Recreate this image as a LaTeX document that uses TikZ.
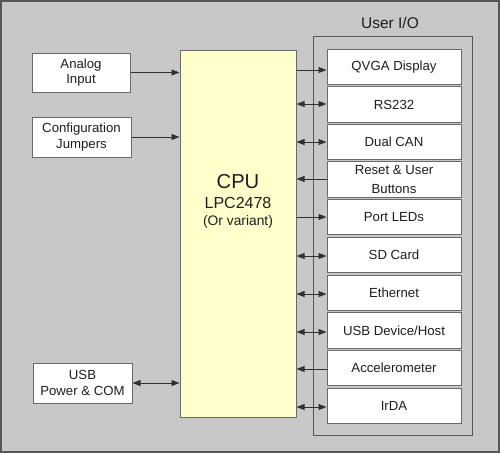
\documentclass[tikz,border=0pt]{standalone}
\usepackage{fontspec}
\setmainfont{Liberation Sans}
\usetikzlibrary{arrows.meta}
\definecolor{bggray}{HTML}{C8C8C8}
\definecolor{frameline}{HTML}{5A5557}
\definecolor{boxline}{HTML}{6A6A6A}
\definecolor{cpufill}{HTML}{FFFFCC}
\definecolor{arrowc}{HTML}{333033}
\definecolor{txt}{HTML}{1E1E1E}
\begin{document}
\begin{tikzpicture}[x=1pt,y=-1pt,
  box/.style={draw=boxline, fill=white, line width=1pt, text=txt,
    font=\fontsize{13.2}{15.5}\selectfont, align=center, inner sep=0pt},
  iobox/.style={box, minimum width=134pt, minimum height=35.5pt},
  conn/.style={draw=arrowc, line width=0.9pt},
  tipto/.style={conn, -{Triangle[length=8pt,width=6pt]}},
  tipfrom/.style={conn, {Triangle[length=8pt,width=6pt]}-},
  tipboth/.style={conn, {Triangle[length=8pt,width=6pt]}-{Triangle[length=8pt,width=6pt]}}]
\useasboundingbox (0,0) rectangle (500,453);
% outer frame
\draw[fill=bggray, draw=frameline, line width=1.8pt] (0.9,0.9) rectangle (499.1,452.1);
% User I/O frame
\draw[draw=frameline, line width=1pt] (313,36) rectangle (472,435);
\node[text=txt, font=\fontsize{15.5}{18}\selectfont] (uiolabel) at (390,23) {User I/O};
% CPU
\node[box, fill=cpufill, minimum width=116pt, minimum height=367pt] (cpu) at (238,233.5) {};
\node[text=txt, font=\fontsize{20.2}{24}\selectfont] (cpuA) at (238,182) {CPU};
\node[text=txt, font=\fontsize{16}{19}\selectfont] (cpuB) at (238,203) {LPC2478};
\node[text=txt, font=\fontsize{13.8}{16}\selectfont] (cpuC) at (238,221.5) {(Or variant)};
% left boxes
\node[box, minimum width=98pt, minimum height=39pt] (analog) at (81,72.5) {Analog\\Input};
\node[box, minimum width=99pt, minimum height=40pt] (config) at (81.5,137) {Configuration\\Jumpers};
\node[box, minimum width=99pt, minimum height=40pt] (usbp) at (82.5,383) {USB\\Power \& COM};
\draw[tipto] (analog.east) -- (analog.east -| cpu.west);
\draw[tipto] (config.east) -- (config.east -| cpu.west);
\draw[tipboth] (usbp.east) -- (usbp.east -| cpu.west);
% right boxes
\node[iobox] (qvga) at (394,67) {QVGA Display};
\node[iobox] (rs) at (394,104.5) {RS232};
\node[iobox] (can) at (394,142) {Dual CAN};
\node[iobox, font=\fontsize{13.2}{19}\selectfont] (reset) at (394,179.5) {Reset \& User\\Buttons};
\node[iobox] (leds) at (394,217) {Port LEDs};
\node[iobox] (sd) at (394,255) {SD Card};
\node[iobox] (eth) at (394,293) {Ethernet};
\node[iobox] (usbd) at (394,330.5) {USB Device/Host};
\node[iobox] (acc) at (394,368) {Accelerometer};
\node[iobox] (irda) at (394,406) {IrDA};
\draw[tipto] (cpu.east |- 0,70) coordinate (cq) -- (cq -| qvga.west);
\draw[tipboth] (cpu.east |- 0,104) coordinate (cr) -- (cr -| rs.west);
\draw[tipboth] (cpu.east |- 0,142) coordinate (cc) -- (cc -| can.west);
\draw[tipfrom] (cpu.east |- 0,179) coordinate (cre) -- (cre -| reset.west);
\draw[tipto] (cpu.east |- 0,217) coordinate (cl) -- (cl -| leds.west);
\draw[tipboth] (cpu.east |- 0,256) coordinate (cs) -- (cs -| sd.west);
\draw[tipboth] (cpu.east |- 0,294) coordinate (ce) -- (ce -| eth.west);
\draw[tipboth] (cpu.east |- 0,332) coordinate (cu) -- (cu -| usbd.west);
\draw[tipfrom] (cpu.east |- 0,369) coordinate (ca) -- (ca -| acc.west);
\draw[tipboth] (cpu.east |- 0,407) coordinate (ci) -- (ci -| irda.west);
\end{tikzpicture}
\end{document}
